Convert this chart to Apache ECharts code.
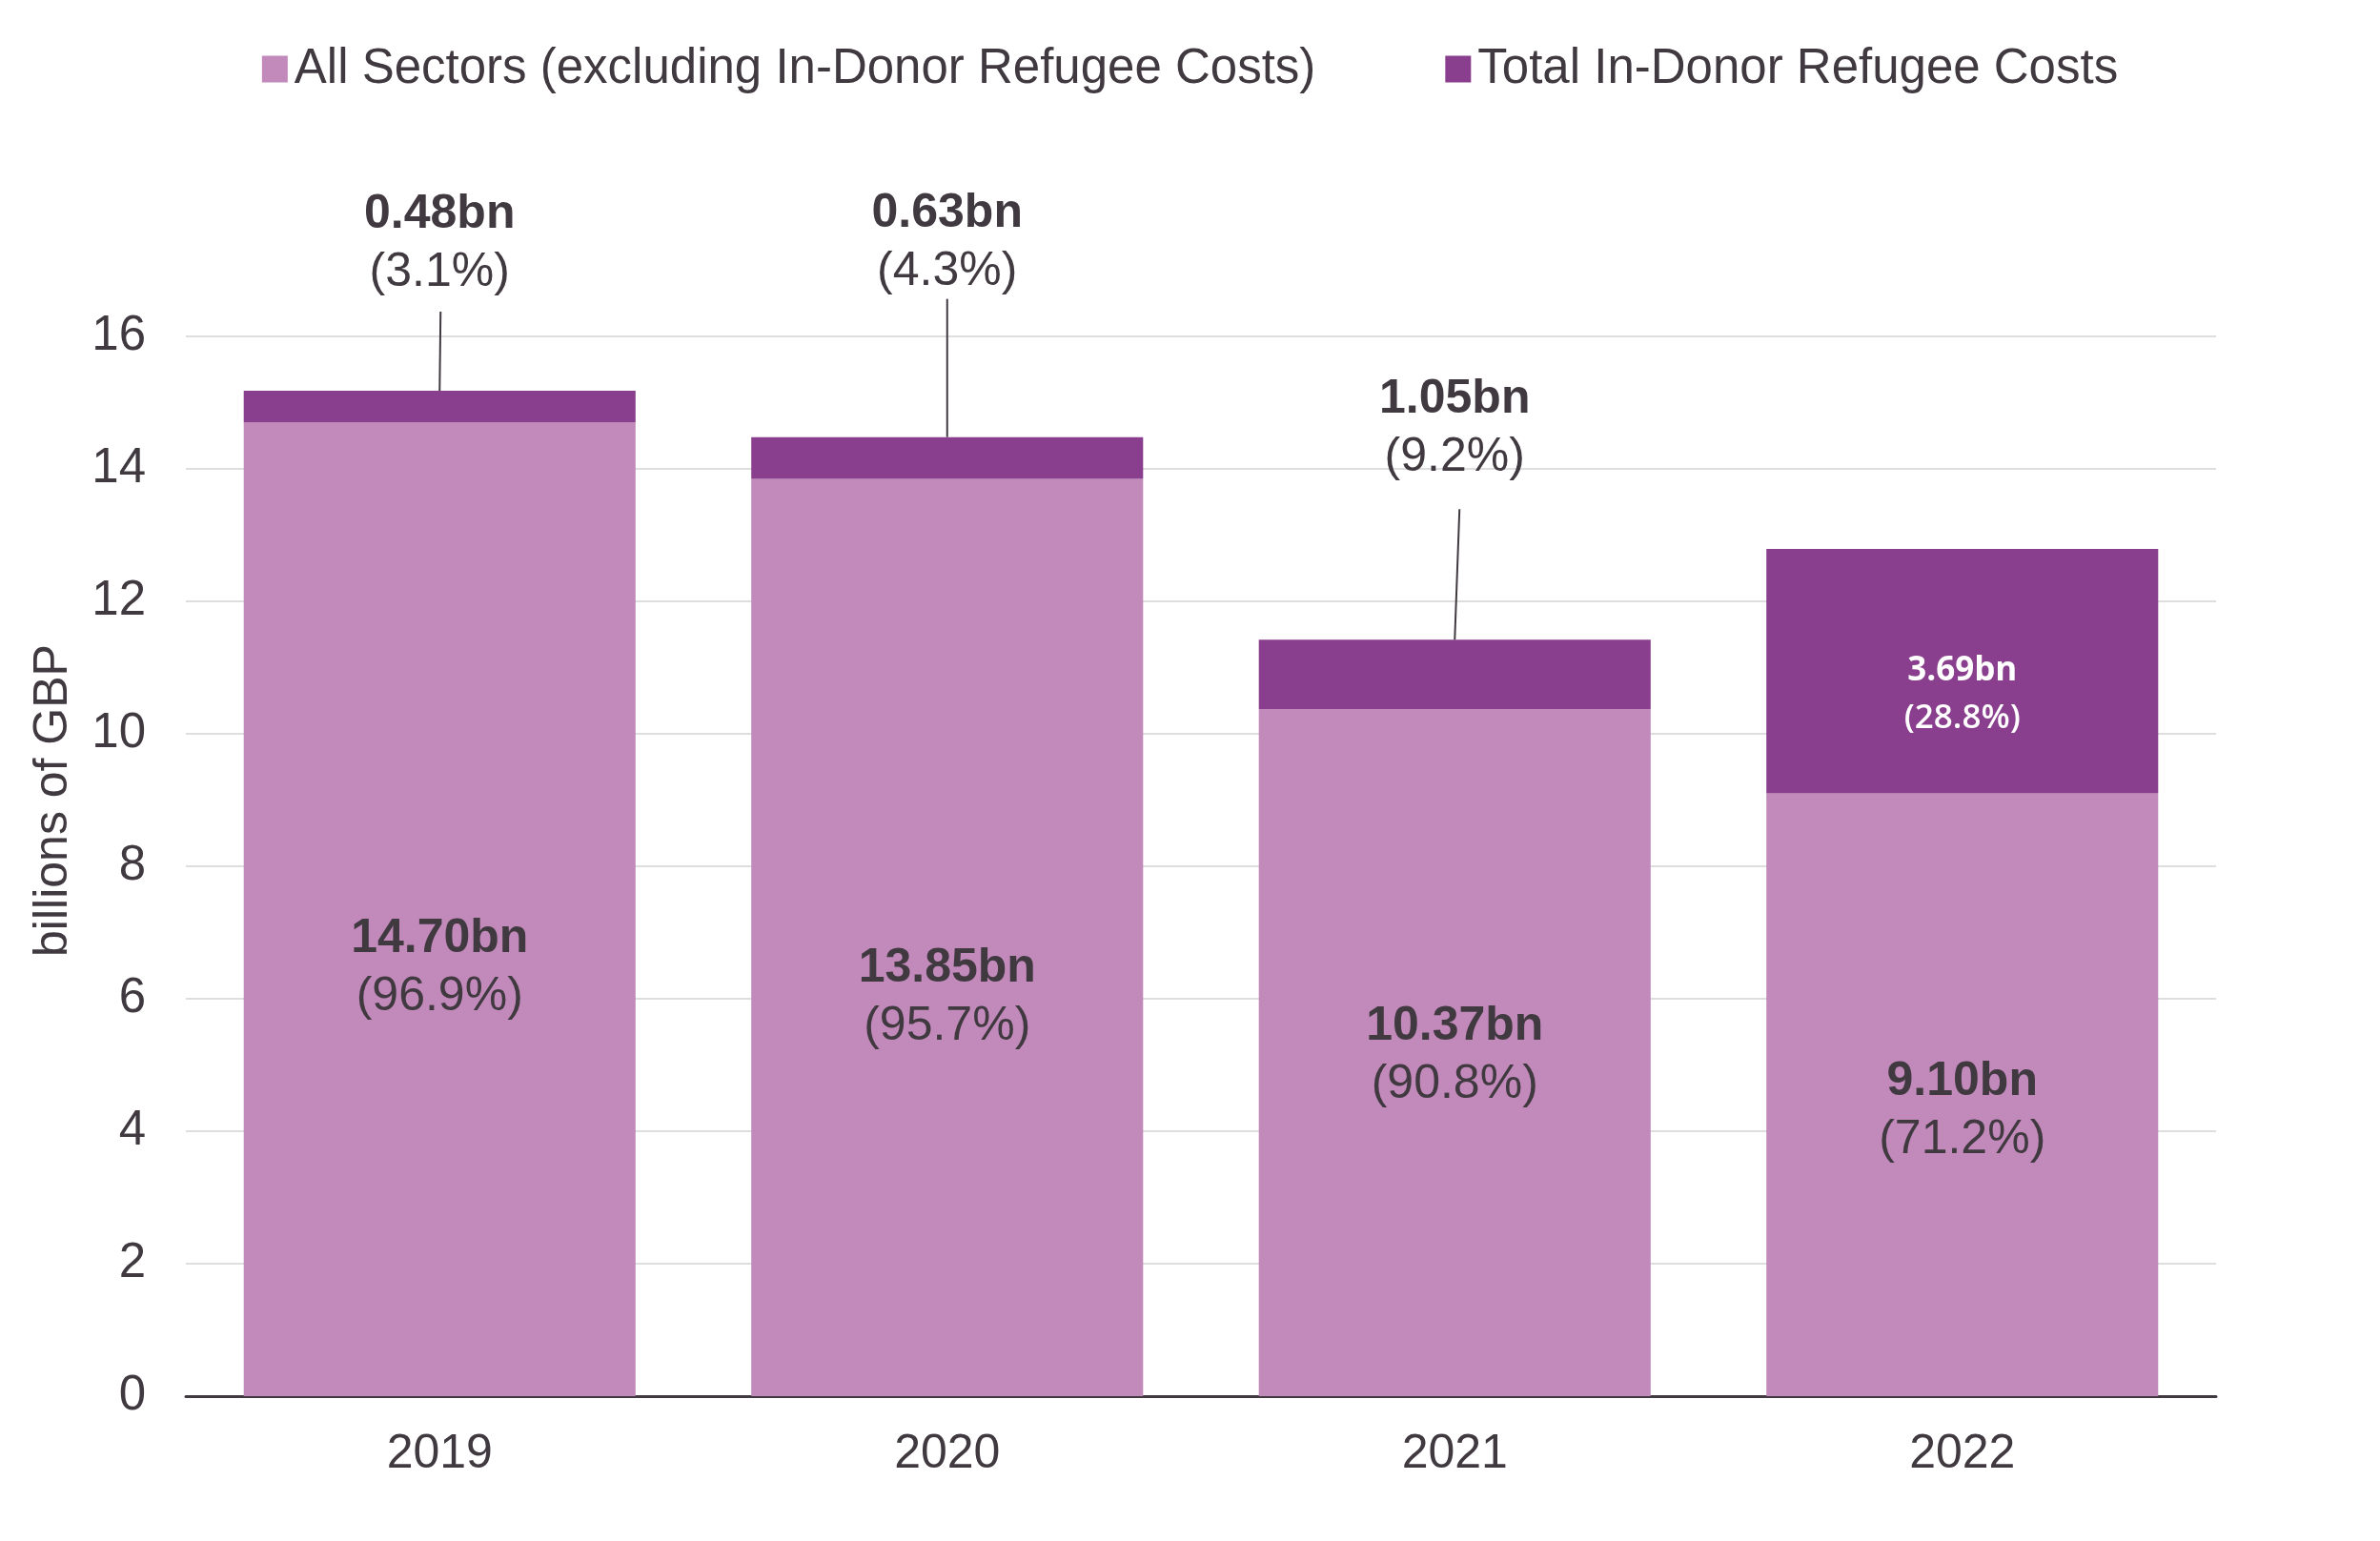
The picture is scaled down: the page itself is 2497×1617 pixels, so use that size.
<!DOCTYPE html>
<html><head><meta charset="utf-8">
<script src="https://cdn.jsdelivr.net/npm/echarts@6/dist/echarts.min.js"></script>
<style>html,body{margin:0;padding:0;background:#fff}#c{width:2497px;height:1617px}</style>
</head><body><div id="c"></div>
<script>
// ---- data ----
const categories = ['2019', '2020', '2021', '2022'];
const allSectors = [14.70, 13.85, 10.37, 9.10];
const refugee = [0.48, 0.63, 1.05, 3.69];
const allSectorsPct = ['96.9%', '95.7%', '90.8%', '71.2%'];
const refugeePct = ['3.1%', '4.3%', '9.2%', '28.8%'];
const yMin = 0, yMax = 16, yInterval = 2;
const seriesNames = ['All Sectors (excluding In-Donor Refugee Costs)', 'Total In-Donor Refugee Costs'];

// ---- style ----
const FONT = '"Liberation Sans", Arial, sans-serif';
const TXT = '#403A40';
const PINK = '#C289BB';
const PURPLE = '#893F8D';
const pinkLabelDy = [62, 63, 3, 17];
const refugeeOutside = [true, true, true, false];
const refugeeDistance = [93, 143, 161, 0];
const leaderLen = [83, 145, 137];
const leaderSlant = [1, 0, 5];

const chart = echarts.init(document.getElementById('c'));

const richDark = {
  b: { fontFamily: FONT, fontSize: 50, fontWeight: 'bold', color: TXT, lineHeight: 61 },
  n: { fontFamily: FONT, fontSize: 50, color: TXT, lineHeight: 61 }
};
const richWhite = {
  b: { fontFamily: '"Open Sans", sans-serif', fontSize: 35, fontWeight: 'bold', color: '#fff', lineHeight: 50 },
  n: { fontFamily: '"Open Sans", sans-serif', fontSize: 35, fontWeight: 600, color: '#fff', lineHeight: 50 }
};

const pinkData = allSectors.map((v, i) => ({
  value: v,
  label: {
    show: true, position: 'inside', offset: [0, pinkLabelDy[i]],
    formatter: '{b|' + v.toFixed(2) + 'bn}\n{n|(' + allSectorsPct[i] + ')}',
    rich: richDark
  }
}));
const refData = refugee.map((v, i) => ({
  value: v,
  label: refugeeOutside[i] ? {
    show: true, position: 'top', distance: refugeeDistance[i],
    formatter: '{b|' + v.toFixed(2) + 'bn}\n{n|(' + refugeePct[i] + ')}',
    rich: richDark
  } : {
    show: true, position: 'inside', offset: [0, 25],
    formatter: '{b|' + v.toFixed(2) + 'bn}\n{n|(' + refugeePct[i] + ')}',
    rich: richWhite
  }
}));

chart.setOption({
  animation: false,
  backgroundColor: '#fff',
  textStyle: { fontFamily: FONT },
  legend: {
    data: seriesNames,
    top: 42, left: 'center',
    itemWidth: 27, itemHeight: 28, itemGap: 136,
    icon: 'rect',
    textStyle: { fontFamily: FONT, fontSize: 51, color: TXT, padding: [0, 0, 0, 2] }
  },
  grid: { left: 195, right: 172, top: 353, bottom: 152, containLabel: false },
  xAxis: {
    type: 'category', data: categories,
    axisLine: { show: true, lineStyle: { color: TXT, width: 3 } },
    axisTick: { show: false },
    axisLabel: { fontFamily: FONT, fontSize: 50, color: TXT, margin: 36 }
  },
  yAxis: {
    type: 'value', min: yMin, max: yMax, interval: yInterval,
    name: 'billions of GBP', nameLocation: 'middle', nameGap: 114, nameRotate: 90,
    nameTextStyle: { fontFamily: FONT, fontSize: 50, color: TXT, padding: [0, 0, 0, 138] },
    axisLine: { show: false }, axisTick: { show: false },
    axisLabel: { fontFamily: FONT, fontSize: 51, color: TXT, margin: 42 },
    splitLine: { lineStyle: { color: '#DEDEDE', width: 2 } }
  },
  series: [
    { name: seriesNames[0], type: 'bar', stack: 'total', data: pinkData,
      itemStyle: { color: PINK }, barCategoryGap: '22.8%' },
    { name: seriesNames[1], type: 'bar', stack: 'total', data: refData,
      itemStyle: { color: PURPLE }, barCategoryGap: '22.8%' }
  ]
});

const lines = [];
for (let i = 0; i < leaderLen.length; i++) {
  const p = chart.convertToPixel({ gridIndex: 0 }, [i, allSectors[i] + refugee[i]]);
  lines.push({
    type: 'line', z: 100,
    shape: { x1: p[0], y1: p[1], x2: p[0] + leaderSlant[i], y2: p[1] - leaderLen[i] },
    style: { stroke: TXT, lineWidth: 2 }
  });
}
chart.setOption({ graphic: lines });
</script>
</body></html>
